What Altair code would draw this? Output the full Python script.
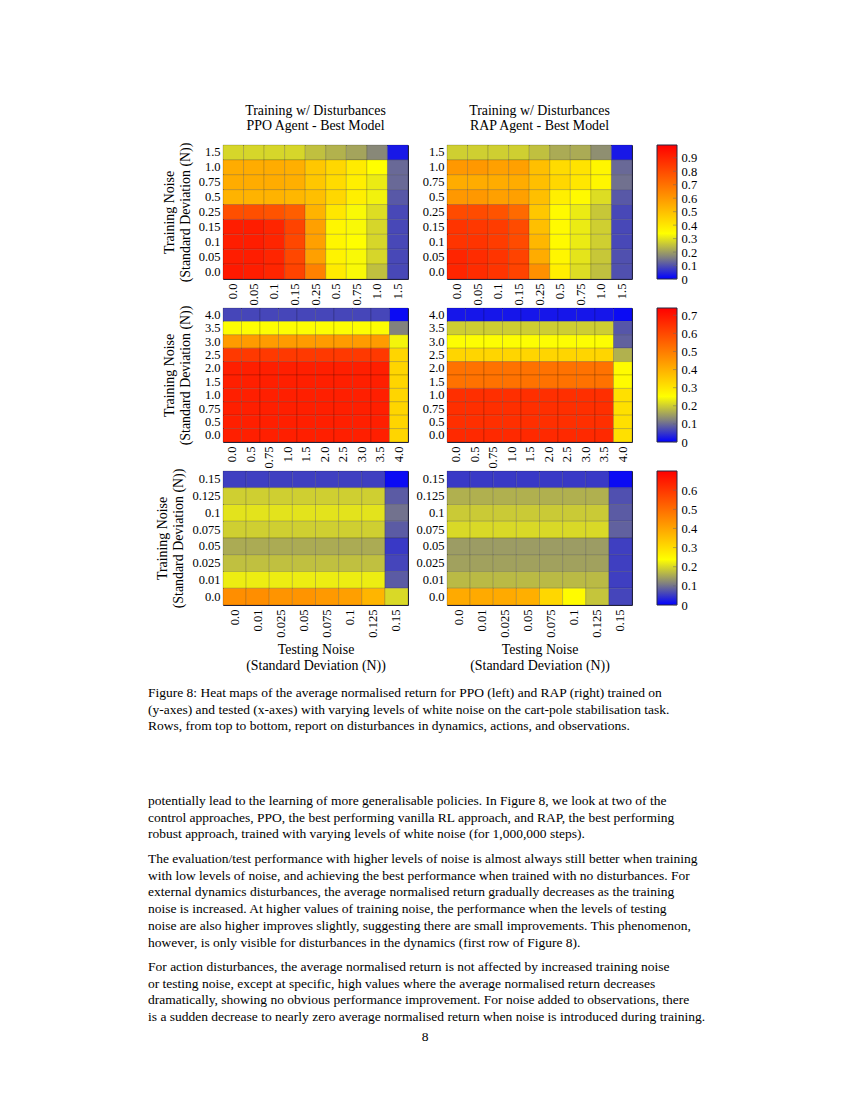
import altair as alt
import pandas as pd

FONT = "Liberation Serif"

# ---------------- data ----------------
dyn_ticks = ["0.0", "0.05", "0.1", "0.15", "0.25", "0.5", "0.75", "1.0", "1.5"]
act_ticks = ["0.0", "0.5", "0.75", "1.0", "1.5", "2.0", "2.5", "3.0", "3.5", "4.0"]
obs_ticks = ["0.0", "0.01", "0.025", "0.05", "0.075", "0.1", "0.125", "0.15"]

# rows listed from the TOP (highest training noise) to the bottom (0.0)
ppo_dyn = [
    [0.28, 0.28, 0.28, 0.28, 0.25, 0.23, 0.21, 0.17, 0.03],
    [0.55, 0.55, 0.55, 0.54, 0.48, 0.44, 0.39, 0.34, 0.13],
    [0.55, 0.55, 0.55, 0.54, 0.48, 0.43, 0.38, 0.31, 0.13],
    [0.53, 0.53, 0.53, 0.52, 0.50, 0.44, 0.38, 0.32, 0.11],
    [0.79, 0.79, 0.78, 0.75, 0.53, 0.40, 0.33, 0.29, 0.09],
    [0.92, 0.92, 0.90, 0.82, 0.58, 0.36, 0.33, 0.28, 0.09],
    [0.92, 0.92, 0.90, 0.81, 0.58, 0.36, 0.34, 0.28, 0.09],
    [0.92, 0.92, 0.90, 0.81, 0.58, 0.37, 0.33, 0.28, 0.09],
    [0.93, 0.92, 0.90, 0.82, 0.66, 0.39, 0.33, 0.25, 0.09],
]
rap_dyn = [
    [0.27, 0.27, 0.27, 0.27, 0.25, 0.22, 0.22, 0.18, 0.03],
    [0.60, 0.60, 0.58, 0.58, 0.50, 0.43, 0.41, 0.36, 0.13],
    [0.55, 0.55, 0.55, 0.55, 0.50, 0.44, 0.40, 0.36, 0.14],
    [0.60, 0.60, 0.58, 0.58, 0.50, 0.38, 0.35, 0.29, 0.11],
    [0.80, 0.80, 0.78, 0.72, 0.48, 0.35, 0.31, 0.26, 0.09],
    [0.86, 0.85, 0.84, 0.80, 0.50, 0.35, 0.31, 0.27, 0.09],
    [0.86, 0.86, 0.84, 0.80, 0.52, 0.35, 0.31, 0.27, 0.09],
    [0.90, 0.88, 0.86, 0.82, 0.55, 0.36, 0.30, 0.26, 0.10],
    [0.90, 0.88, 0.86, 0.82, 0.62, 0.38, 0.29, 0.25, 0.10],
]
ppo_act = [
    [0.065, 0.065, 0.065, 0.065, 0.065, 0.065, 0.065, 0.065, 0.065, 0.01],
    [0.25, 0.25, 0.25, 0.25, 0.25, 0.25, 0.25, 0.25, 0.25, 0.12],
    [0.44, 0.44, 0.44, 0.44, 0.44, 0.44, 0.44, 0.44, 0.44, 0.24],
    [0.63, 0.63, 0.63, 0.63, 0.63, 0.63, 0.63, 0.63, 0.63, 0.33],
    [0.68, 0.68, 0.68, 0.68, 0.68, 0.68, 0.68, 0.68, 0.68, 0.33],
    [0.68, 0.68, 0.68, 0.68, 0.68, 0.68, 0.68, 0.68, 0.68, 0.33],
    [0.68, 0.68, 0.68, 0.68, 0.68, 0.68, 0.68, 0.68, 0.68, 0.33],
    [0.68, 0.68, 0.68, 0.68, 0.68, 0.68, 0.68, 0.68, 0.68, 0.33],
    [0.68, 0.68, 0.68, 0.68, 0.68, 0.68, 0.68, 0.68, 0.68, 0.33],
    [0.68, 0.68, 0.68, 0.68, 0.68, 0.68, 0.68, 0.68, 0.68, 0.33],
]
rap_act = [
    [0.02, 0.02, 0.02, 0.02, 0.02, 0.02, 0.02, 0.02, 0.02, 0.01],
    [0.20, 0.20, 0.20, 0.20, 0.20, 0.20, 0.20, 0.20, 0.20, 0.08],
    [0.25, 0.25, 0.25, 0.25, 0.25, 0.25, 0.25, 0.25, 0.25, 0.09],
    [0.33, 0.33, 0.33, 0.33, 0.33, 0.33, 0.33, 0.33, 0.33, 0.17],
    [0.52, 0.52, 0.52, 0.52, 0.52, 0.52, 0.52, 0.52, 0.52, 0.26],
    [0.52, 0.52, 0.52, 0.52, 0.52, 0.52, 0.52, 0.52, 0.52, 0.26],
    [0.65, 0.65, 0.65, 0.65, 0.65, 0.65, 0.65, 0.65, 0.65, 0.31],
    [0.65, 0.65, 0.65, 0.65, 0.65, 0.65, 0.65, 0.65, 0.65, 0.31],
    [0.65, 0.65, 0.65, 0.65, 0.65, 0.65, 0.65, 0.65, 0.65, 0.31],
    [0.66, 0.66, 0.66, 0.66, 0.66, 0.66, 0.66, 0.66, 0.66, 0.31],
]
ppo_obs = [
    [0.055, 0.055, 0.055, 0.055, 0.055, 0.055, 0.055, 0.01],
    [0.19, 0.19, 0.19, 0.19, 0.19, 0.19, 0.19, 0.08],
    [0.21, 0.21, 0.21, 0.21, 0.21, 0.21, 0.21, 0.10],
    [0.19, 0.19, 0.19, 0.19, 0.19, 0.19, 0.19, 0.08],
    [0.155, 0.155, 0.155, 0.155, 0.155, 0.155, 0.155, 0.05],
    [0.175, 0.175, 0.175, 0.175, 0.175, 0.175, 0.175, 0.06],
    [0.22, 0.22, 0.22, 0.22, 0.22, 0.22, 0.22, 0.08],
    [0.44, 0.44, 0.43, 0.43, 0.42, 0.41, 0.37, 0.20],
]
rap_obs = [
    [0.05, 0.05, 0.05, 0.05, 0.05, 0.05, 0.05, 0.01],
    [0.16, 0.16, 0.16, 0.16, 0.16, 0.16, 0.16, 0.07],
    [0.185, 0.185, 0.185, 0.185, 0.185, 0.185, 0.185, 0.08],
    [0.20, 0.20, 0.20, 0.20, 0.20, 0.20, 0.20, 0.085],
    [0.14, 0.14, 0.14, 0.14, 0.14, 0.14, 0.14, 0.055],
    [0.145, 0.145, 0.145, 0.145, 0.145, 0.145, 0.145, 0.055],
    [0.17, 0.17, 0.17, 0.17, 0.17, 0.17, 0.17, 0.055],
    [0.39, 0.39, 0.39, 0.38, 0.31, 0.245, 0.18, 0.06],
]

row_max = [0.995, 0.74, 0.70]
cbar_ticks = [
    [0, 0.1, 0.2, 0.3, 0.4, 0.5, 0.6, 0.7, 0.8, 0.9],
    [0, 0.1, 0.2, 0.3, 0.4, 0.5, 0.6, 0.7],
    [0, 0.1, 0.2, 0.3, 0.4, 0.5, 0.6],
]

panel_title_l = ["Training w/ Disturbances", "PPO Agent - Best Model"]
panel_title_r = ["Training w/ Disturbances", "RAP Agent - Best Model"]
y_title = ["Training Noise", "(Standard Deviation (N))"]
x_title = ["Testing Noise", "(Standard Deviation (N))"]

caption = [
    "Figure 8:  Heat maps of the average normalised return for PPO (left) and RAP (right) trained on",
    "(y-axes) and tested (x-axes) with varying levels of white noise on the cart-pole stabilisation task.",
    "Rows, from top to bottom, report on disturbances in dynamics, actions, and observations.",
]
para1 = [
    "potentially lead to the learning of more generalisable policies.  In Figure 8, we look at two of the",
    "control approaches, PPO, the best performing vanilla RL approach, and RAP, the best performing",
    "robust approach, trained with varying levels of white noise (for 1,000,000 steps).",
]
para2 = [
    "The evaluation/test performance with higher levels of noise is almost always still better when training",
    "with low levels of noise, and achieving the best performance when trained with no disturbances. For",
    "external dynamics disturbances, the average normalised return gradually decreases as the training",
    "noise is increased.  At higher values of training noise, the performance when the levels of testing",
    "noise are also higher improves slightly, suggesting there are small improvements. This phenomenon,",
    "however, is only visible for disturbances in the dynamics (first row of Figure 8).",
]
para3 = [
    "For action disturbances, the average normalised return is not affected by increased training noise",
    "or testing noise, except at specific, high values where the average normalised return decreases",
    "dramatically, showing no obvious performance improvement. For noise added to observations, there",
    "is a sudden decrease to nearly zero average normalised return when noise is introduced during training.",
]
page_no = "8"

# ---------------- styling ----------------
PAL_POS = [0.0, 0.16, 0.34, 0.6, 1.0]
PAL_COL = ["#0000ff", "#808080", "#ffff00", "#ff9900", "#ff0000"]
HW, HH = 185, 134
FS_TICK = 12.5
FS_TEXT = 13.5
FS_TITLE = 13.9


def to_df(rows, ticks):
    recs = []
    top_first = ticks[::-1]
    for i, row in enumerate(rows):
        for j, v in enumerate(row):
            recs.append({"test": ticks[j], "train": top_first[i], "v": v})
    return pd.DataFrame(recs)


def color_scale(M):
    return alt.Scale(domain=[p * M for p in PAL_POS], range=PAL_COL,
                     interpolate="rgb", clamp=True)


def heat(rows, ticks, M, left, bottom, title=None):
    df = to_df(rows, ticks)
    yax = dict(labelPadding=3, labelFontSize=FS_TICK, labelFont=FONT)
    if left:
        yax.update(title=y_title, titlePadding=6, titleFontSize=FS_TITLE)
    else:
        yax.update(title=None)
    xax = dict(labelAngle=270, labelPadding=4, labelFontSize=FS_TICK, labelFont=FONT)
    if bottom:
        xax.update(title=x_title, titlePadding=5, titleFontSize=FS_TITLE)
    else:
        xax.update(title=None)
    props = dict(width=HW, height=HH)
    if title is not None:
        props["title"] = alt.TitleParams(text=title, font=FONT, fontSize=FS_TITLE,
                                         fontWeight="normal", offset=9 if left else 12,
                                         anchor="middle", frame="group", color="black",
                                         lineHeight=15)
    return alt.Chart(df).mark_rect(stroke="#000000", strokeWidth=0.6, strokeOpacity=0.28).encode(
        x=alt.X("test:O", sort=ticks, scale=alt.Scale(paddingInner=0, paddingOuter=0),
                axis=alt.Axis(**xax)),
        y=alt.Y("train:O", sort=ticks[::-1], scale=alt.Scale(paddingInner=0, paddingOuter=0),
                axis=alt.Axis(**yax)),
        color=alt.Color("v:Q", scale=color_scale(M), legend=None),
    ).properties(**props)


CB_W = 20
CB_SHIFT = 14   # colour bar sits closer to its heat map than the heat maps sit to each other


def colorbar(M, tvals):
    df = pd.DataFrame({"lo": [0.0], "hi": [M]})
    tdf = pd.DataFrame({"t": tvals})
    grad = alt.Gradient(
        gradient="linear",
        stops=[alt.GradientStop(offset=p, color=c) for p, c in zip(PAL_POS, PAL_COL)],
        x1=0, x2=0, y1=1, y2=0,
    )
    yscale = alt.Scale(domain=[0, M], nice=False, zero=True)
    yaxis = alt.Axis(orient="right", values=tvals, title=None, labelPadding=4,
                     labelFontSize=FS_TICK, labelFont=FONT, labelOverlap=False,
                     labelExpr="datum.value == 0 ? '0' : format(datum.value, '.1f')")
    bar = alt.Chart(df).mark_rect(fill=grad, stroke="#262640", strokeWidth=1).encode(
        x=alt.value(-CB_SHIFT), x2=alt.value(CB_W - CB_SHIFT),
        y=alt.Y("lo:Q", scale=yscale, axis=yaxis, title=None),
        y2="hi",
    )
    ticks = alt.Chart(tdf).mark_rule(color="#666666", strokeWidth=0.8, opacity=0.6).encode(
        y=alt.Y("t:Q", scale=yscale, axis=yaxis, title=None),
        x=alt.value(CB_W - CB_SHIFT - 4), x2=alt.value(CB_W - CB_SHIFT),
    )
    return alt.layer(bar, ticks, view=alt.ViewBackground(strokeOpacity=0)).properties(
        width=CB_W - CB_SHIFT, height=HH)


row_specs = [
    (ppo_dyn, rap_dyn, dyn_ticks),
    (ppo_act, rap_act, act_ticks),
    (ppo_obs, rap_obs, obs_ticks),
]

cells = []
for k, (lrows, rrows, ticks) in enumerate(row_specs):
    M = row_max[k]
    lt = panel_title_l if k == 0 else None
    rt = panel_title_r if k == 0 else None
    cells.append(heat(lrows, ticks, M, True, k == 2, lt))
    cells.append(heat(rrows, ticks, M, False, k == 2, rt))
    cells.append(colorbar(M, cbar_ticks[k]))

# ---------------- text block ----------------
TX = -75          # text left edge relative to heat-map grid
LH = 16.7         # line height


def text_layer(lines, y, align="left", x=TX):
    return alt.Chart(pd.DataFrame({"a": [0]})).mark_text(
        align=align, baseline="alphabetic", font=FONT, fontSize=FS_TEXT,
        lineHeight=LH, color="black",
    ).encode(x=alt.value(x), y=alt.value(y), text=alt.value(lines))


text_block = alt.layer(
    text_layer(caption, 63),
    text_layer(para1, 171),
    text_layer(para2, 229),
    text_layer(para3, 337),
    text_layer([page_no], 407, align="center", x=202),
).properties(width=HW, height=410, view=alt.ViewBackground(strokeOpacity=0))

cells.append(text_block)

chart = alt.concat(*cells, columns=3, spacing=alt.RowColnumber(row=29, column=39),
                   bounds="flush").resolve_scale(
    color="independent", x="independent", y="independent"
).properties(
    padding={"left": 140, "top": 95, "right": 5, "bottom": 5}
).configure(font=FONT).configure_view(
    stroke="#262640", strokeWidth=1
).configure_axis(
    domain=False, ticks=False, grid=False, labelColor="black", titleColor="black",
    titleFont=FONT, titleFontWeight="normal", labelFont=FONT,
)

chart.save("out.html", embed_options={"renderer": "svg", "actions": False})
